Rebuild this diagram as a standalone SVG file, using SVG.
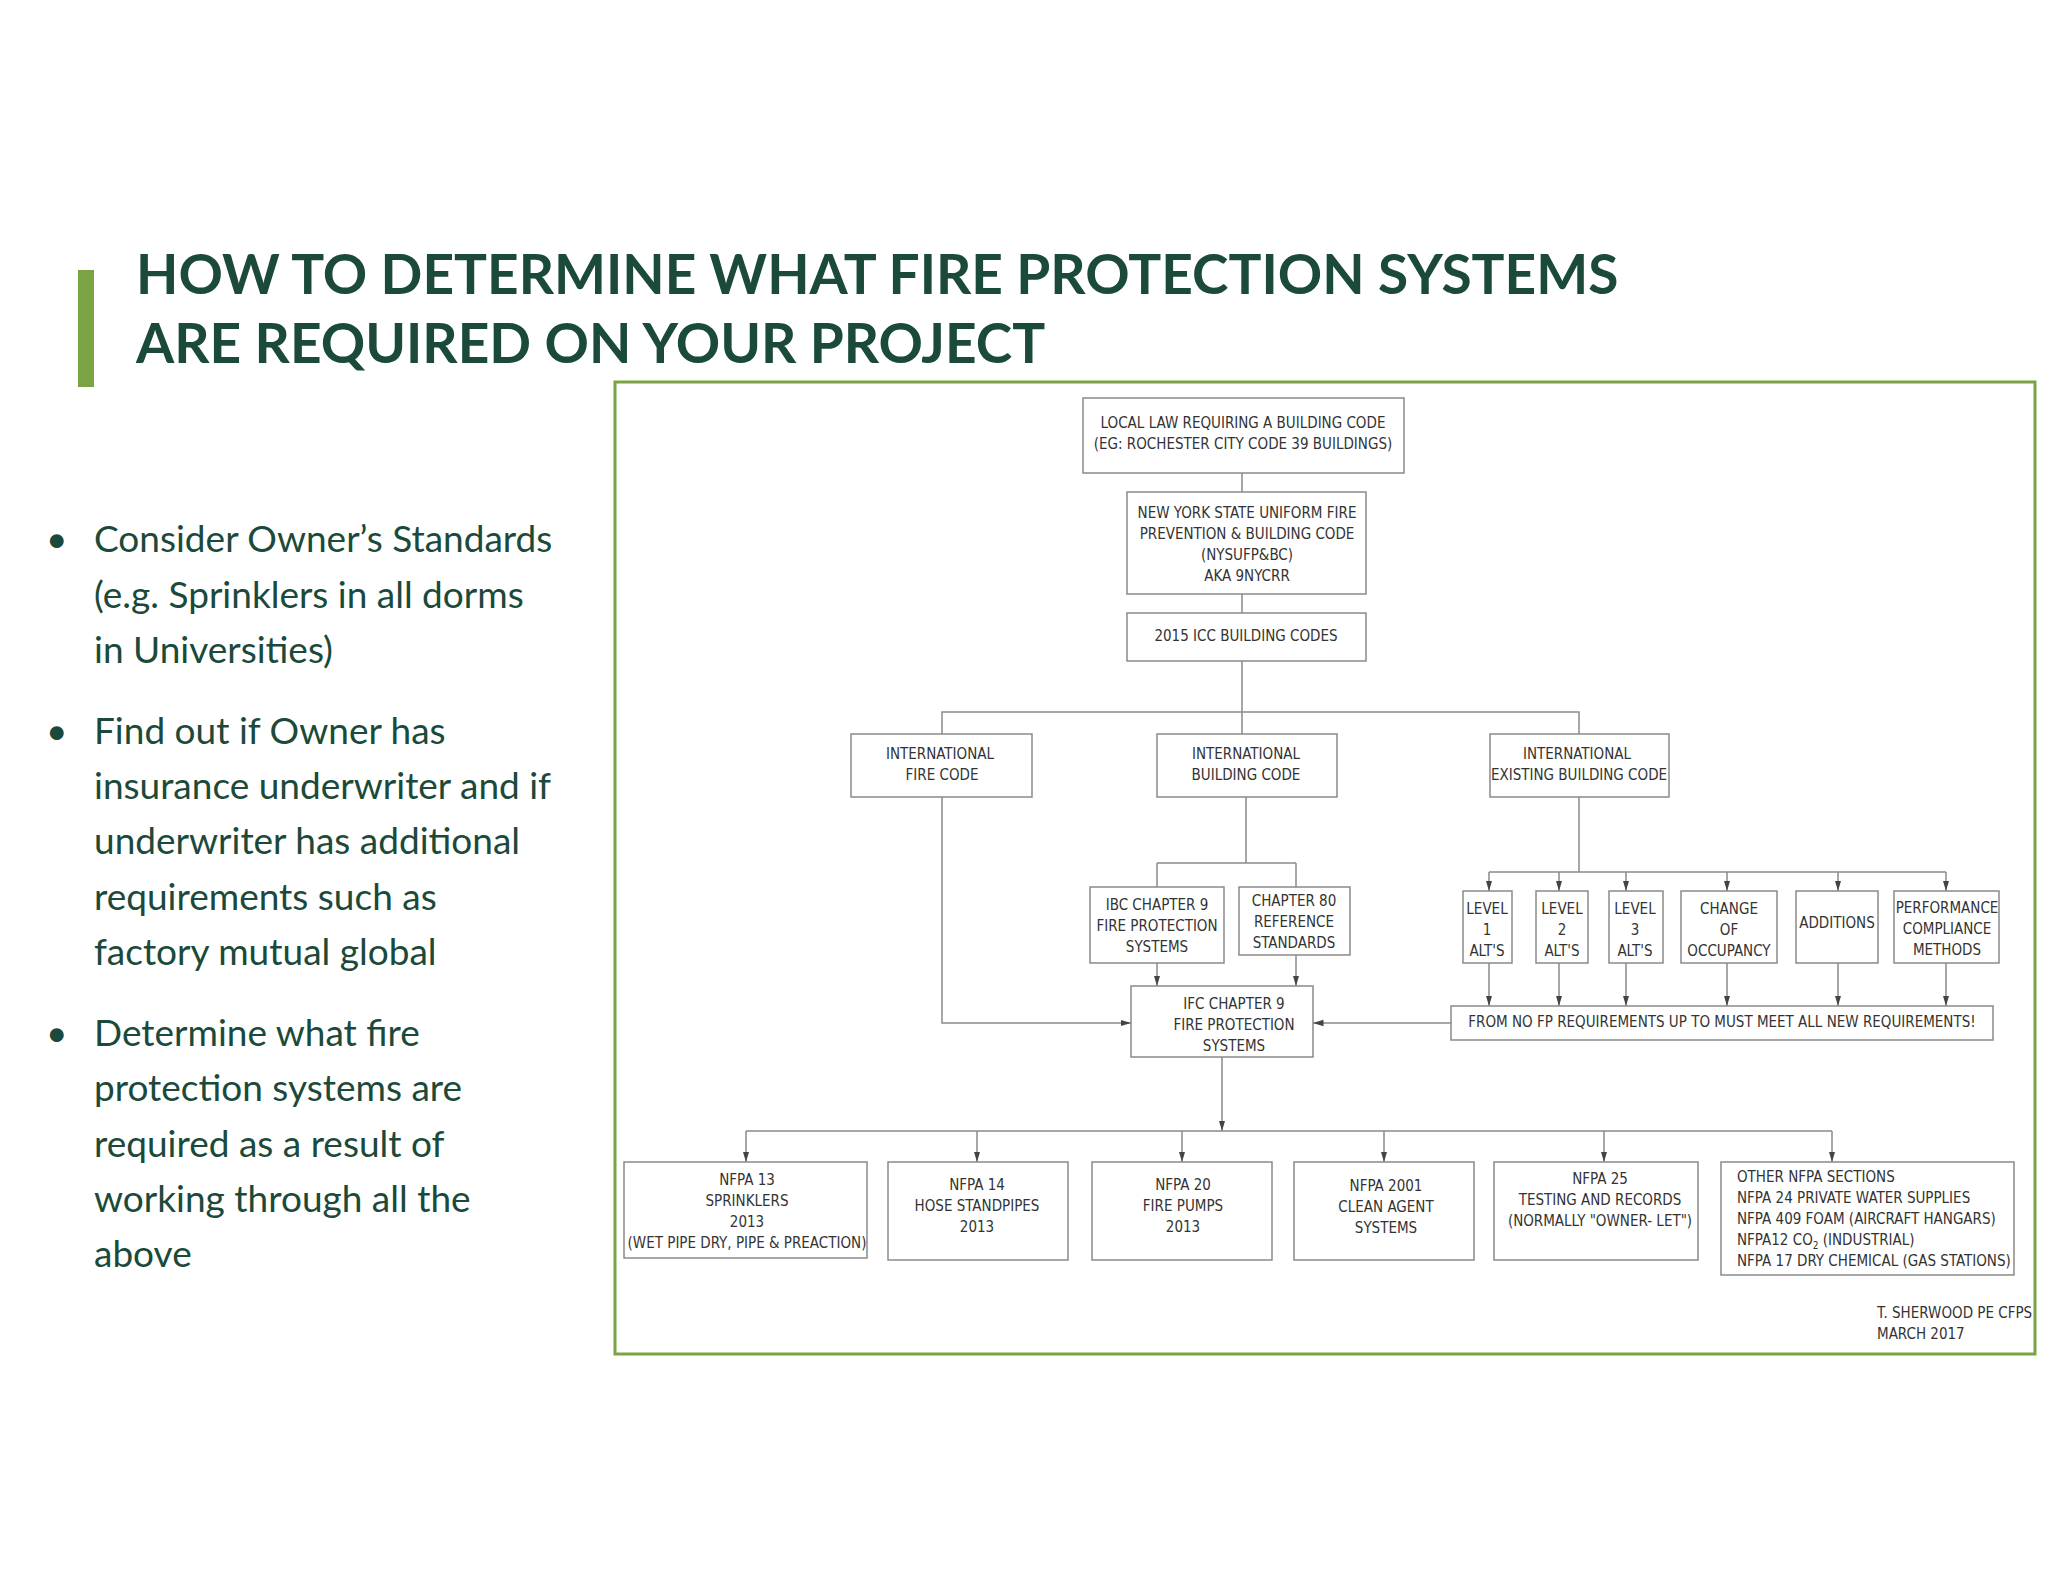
<svg xmlns="http://www.w3.org/2000/svg" width="2048" height="1582" viewBox="0 0 2048 1582">
<style>
.t{font-family:"Lato","Noto Sans",sans-serif;font-weight:bold;font-size:55px;fill:#1b4a3a}
.b{font-family:"Lato","Noto Sans",sans-serif;font-size:37px;fill:#1b4a3a}
.n rect{fill:#fff;stroke:#8a8a8a;stroke-width:1.5}
.n text,.s{font-family:"DejaVu Sans Condensed","DejaVu Sans","Liberation Sans",sans-serif;font-stretch:condensed;font-size:15px;fill:#333;text-anchor:middle}
.c path{fill:none;stroke:#8a8a8a;stroke-width:1.5}
</style>
<defs><marker id="a" viewBox="0 0 10 10" refX="10" refY="5" markerWidth="7" markerHeight="7" orient="auto"><path d="M0,2L10,5L0,8z" fill="#444"/></marker></defs>
<rect width="2048" height="1582" fill="#fff"/>
<rect x="78" y="270" width="16" height="117" fill="#7aa443"/>
<text class="t" x="136" y="294">HOW TO DETERMINE WHAT FIRE PROTECTION SYSTEMS</text>
<text class="t" x="136" y="363">ARE REQUIRED ON YOUR PROJECT</text>
<g class="b">
<text x="46" y="552">•</text><text x="94" y="552">Consider Owner’s Standards</text>
<text x="94" y="608">(e.g. Sprinklers in all dorms</text>
<text x="94" y="663">in Universities)</text>
<text x="46" y="744">•</text><text x="94" y="744">Find out if Owner has</text>
<text x="94" y="799">insurance underwriter and if</text>
<text x="94" y="854">underwriter has additional</text>
<text x="94" y="910">requirements such as</text>
<text x="94" y="965">factory mutual global</text>
<text x="46" y="1046">•</text><text x="94" y="1046">Determine what fire</text>
<text x="94" y="1101">protection systems are</text>
<text x="94" y="1157">required as a result of</text>
<text x="94" y="1212">working through all the</text>
<text x="94" y="1267">above</text>
</g>
<rect x="615" y="382" width="1420" height="972" fill="none" stroke="#7aa443" stroke-width="3"/>
<g class="c">
<path d="M1242,473V492M1242,594V613M1242,661V712M942,734V712H1579V734M1242,712V734"/>
<path d="M1246,797V863M1157,863H1296M1157,863V887M1296,863V887"/>
<path d="M1157,963V986" marker-end="url(#a)"/><path d="M1296,955V986" marker-end="url(#a)"/>
<path d="M942,797V1023H1131" marker-end="url(#a)"/>
<path d="M1451,1023H1313" marker-end="url(#a)"/>
<path d="M1579,797V872M1489,872H1946"/>
<path d="M1489,872V891" marker-end="url(#a)"/><path d="M1559,872V891" marker-end="url(#a)"/><path d="M1626,872V891" marker-end="url(#a)"/><path d="M1727,872V891" marker-end="url(#a)"/><path d="M1838,872V891" marker-end="url(#a)"/><path d="M1946,872V891" marker-end="url(#a)"/>
<path d="M1489,963V1006" marker-end="url(#a)"/><path d="M1559,963V1006" marker-end="url(#a)"/><path d="M1626,963V1006" marker-end="url(#a)"/><path d="M1727,963V1006" marker-end="url(#a)"/><path d="M1838,963V1006" marker-end="url(#a)"/><path d="M1946,963V1006" marker-end="url(#a)"/>
<path d="M1222,1057V1131" marker-end="url(#a)"/><path d="M746,1131H1832"/>
<path d="M746,1131V1162" marker-end="url(#a)"/><path d="M977,1131V1162" marker-end="url(#a)"/><path d="M1182,1131V1162" marker-end="url(#a)"/><path d="M1384,1131V1162" marker-end="url(#a)"/><path d="M1604,1131V1162" marker-end="url(#a)"/><path d="M1832,1131V1162" marker-end="url(#a)"/>
</g>
<g id="local" class="n"><rect x="1083" y="398" width="321" height="75"/><text x="1243" y="428">LOCAL LAW REQUIRING A BUILDING CODE</text><text x="1243" y="449">(EG:  ROCHESTER CITY CODE 39 BUILDINGS)</text></g>
<g id="nys" class="n"><rect x="1127" y="492" width="239" height="102"/><text x="1247" y="518">NEW YORK STATE UNIFORM FIRE</text><text x="1247" y="539">PREVENTION &amp; BUILDING CODE</text><text x="1247" y="560">(NYSUFP&amp;BC)</text><text x="1247" y="581">AKA 9NYCRR</text></g>
<g id="icc" class="n"><rect x="1127" y="613" width="239" height="48"/><text x="1246" y="641">2015 ICC BUILDING CODES</text></g>
<g id="ifc" class="n"><rect x="851" y="734" width="181" height="63"/><text x="940" y="759">INTERNATIONAL</text><text x="942" y="780">FIRE CODE</text></g>
<g id="ibc" class="n"><rect x="1157" y="734" width="180" height="63"/><text x="1246" y="759">INTERNATIONAL</text><text x="1246" y="780">BUILDING CODE</text></g>
<g id="iebc" class="n"><rect x="1490" y="734" width="179" height="63"/><text x="1577" y="759">INTERNATIONAL</text><text x="1579" y="780">EXISTING BUILDING CODE</text></g>
<g id="ibc9" class="n"><rect x="1090" y="887" width="134" height="76"/><text x="1157" y="910">IBC CHAPTER 9</text><text x="1157" y="931">FIRE PROTECTION</text><text x="1157" y="952">SYSTEMS</text></g>
<g id="ch80" class="n"><rect x="1239" y="887" width="111" height="68"/><text x="1294" y="906">CHAPTER 80</text><text x="1294" y="927">REFERENCE</text><text x="1294" y="948">STANDARDS</text></g>
<g id="ifc9" class="n"><rect x="1131" y="986" width="182" height="71"/><text x="1234" y="1009">IFC CHAPTER 9</text><text x="1234" y="1030">FIRE PROTECTION</text><text x="1234" y="1051">SYSTEMS</text></g>
<g id="l1" class="n"><rect x="1463" y="891" width="49" height="72"/><text x="1487" y="914">LEVEL</text><text x="1487" y="935">1</text><text x="1487" y="956">ALT'S</text></g>
<g id="l2" class="n"><rect x="1536" y="891" width="52" height="72"/><text x="1562" y="914">LEVEL</text><text x="1562" y="935">2</text><text x="1562" y="956">ALT'S</text></g>
<g id="l3" class="n"><rect x="1609" y="891" width="54" height="72"/><text x="1635" y="914">LEVEL</text><text x="1635" y="935">3</text><text x="1635" y="956">ALT'S</text></g>
<g id="chg" class="n"><rect x="1681" y="891" width="96" height="72"/><text x="1729" y="914">CHANGE</text><text x="1729" y="935">OF</text><text x="1729" y="956">OCCUPANCY</text></g>
<g id="add" class="n"><rect x="1796" y="891" width="82" height="72"/><text x="1837" y="928">ADDITIONS</text></g>
<g id="perf" class="n"><rect x="1894" y="891" width="105" height="72"/><text x="1947" y="913">PERFORMANCE</text><text x="1947" y="934">COMPLIANCE</text><text x="1947" y="955">METHODS</text></g>
<g id="from" class="n"><rect x="1451" y="1006" width="542" height="34"/><text x="1722" y="1027">FROM NO FP REQUIREMENTS UP TO MUST MEET ALL NEW REQUIREMENTS!</text></g>
<g id="n13" class="n"><rect x="624" y="1162" width="243" height="96"/><text x="747" y="1185">NFPA 13</text><text x="747" y="1206">SPRINKLERS</text><text x="747" y="1227">2013</text><text x="747" y="1248">(WET PIPE DRY, PIPE &amp; PREACTION)</text></g>
<g id="n14" class="n"><rect x="888" y="1162" width="180" height="98"/><text x="977" y="1190">NFPA 14</text><text x="977" y="1211">HOSE STANDPIPES</text><text x="977" y="1232">2013</text></g>
<g id="n20" class="n"><rect x="1092" y="1162" width="180" height="98"/><text x="1183" y="1190">NFPA 20</text><text x="1183" y="1211">FIRE PUMPS</text><text x="1183" y="1232">2013</text></g>
<g id="n2001" class="n"><rect x="1294" y="1162" width="180" height="98"/><text x="1386" y="1191">NFPA 2001</text><text x="1386" y="1212">CLEAN AGENT</text><text x="1386" y="1233">SYSTEMS</text></g>
<g id="n25" class="n"><rect x="1494" y="1162" width="204" height="98"/><text x="1600" y="1184">NFPA 25</text><text x="1600" y="1205">TESTING AND RECORDS</text><text x="1600" y="1226">(NORMALLY "OWNER- LET")</text></g>
<g id="other" class="n"><rect x="1721" y="1162" width="293" height="113"/>
<text x="1737" y="1182" style="text-anchor:start">OTHER NFPA SECTIONS</text>
<text x="1737" y="1203" style="text-anchor:start">NFPA 24 PRIVATE WATER SUPPLIES</text>
<text x="1737" y="1224" style="text-anchor:start">NFPA 409 FOAM (AIRCRAFT HANGARS)</text>
<text x="1737" y="1245" style="text-anchor:start">NFPA12 CO<tspan font-size="10" dy="4">2</tspan><tspan dy="-4">  (INDUSTRIAL)</tspan></text>
<text x="1737" y="1266" style="text-anchor:start">NFPA 17 DRY CHEMICAL (GAS STATIONS)</text></g>
<text class="s" x="1877" y="1318" style="text-anchor:start">T. SHERWOOD PE CFPS</text>
<text class="s" x="1877" y="1339" style="text-anchor:start">MARCH  2017</text>
</svg>
